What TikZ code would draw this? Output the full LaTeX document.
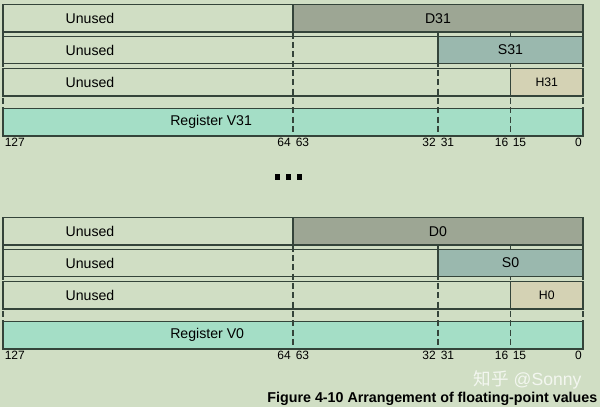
\documentclass[tikz,border=0pt]{standalone}
\usepackage{fontspec}
\setmainfont{Liberation Sans}
\newfontfamily\cjkfont{Noto Sans CJK SC}
\usepackage{xcolor}
\usetikzlibrary{positioning}
\definecolor{bgsage}{RGB}{208,222,196}
\definecolor{dfill}{RGB}{157,166,148}
\definecolor{sfill}{RGB}{154,184,174}
\definecolor{hfill}{RGB}{212,210,180}
\definecolor{regfill}{RGB}{164,222,198}
\definecolor{rowline}{RGB}{52,68,58}
\tikzset{
  row/.style={draw=rowline, line width=0.9pt},
  guide/.style={draw=rowline, line width=0.9pt, dash pattern=on 4.5pt off 2.5pt},
  fieldtext/.style={font=\fontsize{10.6}{12}\selectfont, text=black, inner sep=0pt},
  bittext/.style={font=\fontsize{9}{10}\selectfont, text=black, inner sep=0pt}
}

\begin{document}
\begin{tikzpicture}[x=0.75pt, y=-0.75pt]
        \fill[bgsage] (0,0) rectangle (600,407);
        \useasboundingbox (0,0) rectangle (600,407);

        % ----------------------------------------------------
        % Register blocks: V31 (top) and V0 (bottom)
        % ----------------------------------------------------
        \foreach \dy/\n in {0/31, 213/0} {
        \begin{scope}[shift={(0,\dy)}]
            % Register row fill
            \fill[regfill] (3,108.5) rectangle (583,136);

            % Dashed bit boundaries
            \foreach \x in {3, 293, 438, 510.5, 583}
                \draw[guide] (\x, 4.5) -- (\x, 136);

            % D, S, H rows
            \draw[row, fill=dfill] (293,4.5) rectangle (583,32);
            \draw[row, fill=sfill] (438,36.5) rectangle (583,63.5);
            \draw[row, fill=hfill] (510.5,68.5) rectangle (583,96);
            \draw[row] (3,4.5) rectangle (583,32);
            \draw[row] (3,36.5) rectangle (583,63.5);
            \draw[row] (3,68.5) rectangle (583,96);
            \draw[row] (3,108.5) rectangle (583,136);

            % Field names
            \node[fieldtext] (unusedD\n) at (90,18.25) {Unused};
            \node[fieldtext] (unusedS\n) at (90,50) {Unused};
            \node[fieldtext] (unusedH\n) at (90,82.25) {Unused};
            \node[fieldtext] (d\n) at (438,18.25) {D\n};
            \node[fieldtext] (s\n) at (510.5,50) {S\n};
            \node[fieldtext, font=\fontsize{9.2}{11}\selectfont] (h\n) at (546.75,82.25) {H\n};
            \node[fieldtext, anchor=west] (reg\n) at (170,122.25) {Register V\n};

            % Bit numbers
            \node[bittext, anchor=west] (b127\n) at (4.5,142.5) {127};
            \node[bittext, anchor=east] (b64\n) at (291,142.5) {64};
            \node[bittext, anchor=west] (b63\n) at (295.5,142.5) {63};
            \node[bittext, anchor=east] (b32\n) at (436,142.5) {32};
            \node[bittext, anchor=west] (b31\n) at (440.5,142.5) {31};
            \node[bittext, anchor=east] (b16\n) at (508.5,142.5) {16};
            \node[bittext, anchor=west] (b15\n) at (512.5,142.5) {15};
            \node[bittext, anchor=east] (b0\n) at (582,142.5) {0};
        \end{scope}
        }

        % Ellipsis between the blocks
        \foreach \x in {277.5, 288.5, 299.5}
            \fill[black] (\x-2.6,174.4) rectangle (\x+2.6,179.6);

        % Watermark and caption
        \node[text=white, opacity=0.75, font=\fontsize{13.2}{15}\selectfont, inner sep=0pt] (mark) at (527.5,380) {{\cjkfont 知乎} @Sonny};
        \node[anchor=east, font=\fontsize{10.7}{12}\selectfont\bfseries, inner sep=0pt] (caption) at (597.5,398.5) {Figure 4-10 Arrangement of floating-point values};
\end{tikzpicture}
\end{document}
